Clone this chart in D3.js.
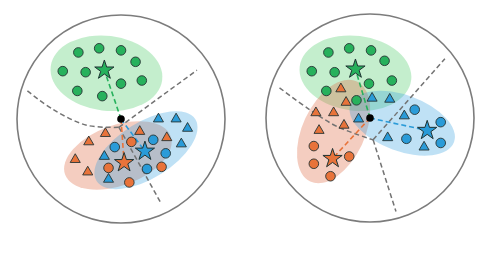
<!DOCTYPE html>
<html>
<head>
<meta charset="utf-8">
<script src="https://cdn.jsdelivr.net/npm/d3@7"></script>
<style>
  html, body { margin: 0; background: #fff; }
</style>
</head>
<body>
<svg id="chart" width="495" height="259"></svg>
<script>
// all positions are in disk units: (0,0) is the centre of the disk, 1 is the rim

// left disk
const leftGreenCircles = [[-0.41,0.64],[-0.21,0.68],[0.00,0.66],[0.14,0.55],[-0.56,0.46],
  [-0.34,0.45],[0.00,0.34],[0.20,0.37],[-0.42,0.27],[-0.18,0.22]];
const leftOrangeTriangles = [[-0.15,-0.14],[-0.31,-0.22],[-0.44,-0.39],[-0.32,-0.51],[0.18,-0.12],[0.44,-0.18]];
const leftOrangeCircles = [[0.10,-0.22],[-0.12,-0.47],[0.39,-0.46],[0.08,-0.61]];
const leftBlueTriangles = [[0.36,0.00],[0.53,0.00],[0.64,-0.09],[0.58,-0.24],[-0.16,-0.36],[-0.12,-0.58]];
const leftBlueCircles = [[-0.06,-0.27],[0.31,-0.20],[0.43,-0.33],[0.25,-0.48]];
const leftStars = [["green",-0.16,0.47],["orange",0.03,-0.42],["blue",0.23,-0.31]];
// cluster ellipses: colour, centre x, centre y, semi-axes, angle (degrees)
const leftEllipses = [["green",-0.14,0.44,0.54,0.36,-7],["orange",-0.03,-0.35,0.54,0.29,20],
  ["blue",0.24,-0.30,0.56,0.27,32]];
const leftBoundaryCurve = [[-0.90,0.27],[-0.65,0.09],[-0.33,-0.06],[-0.02,-0.08]];
const leftBoundaryRays = [[0.73,0.47],[0.39,-0.82]];

// right disk
const rightGreenCircles = [[-0.40,0.63],[-0.20,0.67],[0.01,0.65],[0.14,0.55],[-0.56,0.45],
  [-0.34,0.44],[-0.01,0.33],[0.21,0.36],[-0.42,0.26],[-0.13,0.17]];
const rightOrangeTriangles = [[-0.28,0.28],[-0.23,0.15],[-0.52,0.05],[-0.35,0.05],[-0.25,-0.07],[-0.49,-0.12]];
const rightOrangeCircles = [[-0.54,-0.27],[-0.54,-0.44],[-0.20,-0.37],[-0.38,-0.56]];
const rightBlueTriangles = [[0.02,0.19],[0.19,0.18],[-0.11,-0.01],[0.33,0.02],[0.17,-0.19],[0.52,-0.28]];
const rightBlueCircles = [[0.43,0.08],[0.68,-0.04],[0.35,-0.20],[0.68,-0.24]];
const rightStars = [["green",-0.14,0.47],["orange",-0.36,-0.39],["blue",0.55,-0.12]];
const rightEllipses = [["green",-0.14,0.43,0.54,0.36,-7],["orange",-0.35,-0.13,0.53,0.30,65],
  ["blue",0.31,-0.05,0.53,0.27,-20]];
const rightBoundaryCurve = [[-0.87,0.29],[-0.58,0.08],[-0.32,-0.08],[0.03,-0.21]];
const rightBoundaryRays = [[0.72,0.57],[0.25,-0.90]];

const colors = { green: "#27b15c", orange: "#e8733a", blue: "#2a9bd8" };
const ellipseFill = { green: "#3cc85a", orange: "#e0704a", blue: "#2a9bde" };
const ellipseOpacity = { green: 0.3, orange: 0.35, blue: 0.3 };

const panels = [
  {
    cx: 121, cy: 119,
    circles: [["green", leftGreenCircles], ["orange", leftOrangeCircles], ["blue", leftBlueCircles]],
    triangles: [["orange", leftOrangeTriangles], ["blue", leftBlueTriangles]],
    stars: leftStars, ellipses: leftEllipses,
    curve: leftBoundaryCurve, rays: leftBoundaryRays,
  },
  {
    cx: 370, cy: 118,
    circles: [["green", rightGreenCircles], ["orange", rightOrangeCircles], ["blue", rightBlueCircles]],
    triangles: [["orange", rightOrangeTriangles], ["blue", rightBlueTriangles]],
    stars: rightStars, ellipses: rightEllipses,
    curve: rightBoundaryCurve, rays: rightBoundaryRays,
  },
];

const R = 104;
const svg = d3.select("#chart");
const markStroke = "#263333";

panels.forEach((p) => {
  const x = d3.scaleLinear().domain([-1, 1]).range([p.cx - R, p.cx + R]);
  const y = d3.scaleLinear().domain([-1, 1]).range([p.cy + R, p.cy - R]);
  const g = svg.append("g");

  // disk
  g.append("circle")
    .attr("cx", x(0)).attr("cy", y(0)).attr("r", x(1) - x(0))
    .attr("fill", "none").attr("stroke", "#7c7c7c").attr("stroke-width", 1.6);

  // cluster ellipses
  g.selectAll("ellipse")
    .data(p.ellipses)
    .join("ellipse")
    .attr("transform", (d) => `translate(${x(d[1])},${y(d[2])}) rotate(${-d[5]})`)
    .attr("rx", (d) => x(d[3]) - x(0))
    .attr("ry", (d) => x(d[4]) - x(0))
    .attr("fill", (d) => ellipseFill[d[0]])
    .attr("fill-opacity", (d) => ellipseOpacity[d[0]]);

  // decision boundaries
  const curveLine = d3.line().x((d) => x(d[0])).y((d) => y(d[1])).curve(d3.curveCatmullRom);
  const junction = p.curve[p.curve.length - 1];
  g.append("path")
    .attr("d", curveLine(p.curve))
    .attr("fill", "none").attr("stroke", "#737373").attr("stroke-width", 1.5)
    .attr("stroke-dasharray", "5,3");
  g.selectAll("line.ray")
    .data(p.rays)
    .join("line")
    .attr("class", "ray")
    .attr("x1", x(junction[0])).attr("y1", y(junction[1]))
    .attr("x2", (d) => x(d[0])).attr("y2", (d) => y(d[1]))
    .attr("stroke", "#737373").attr("stroke-width", 1.5)
    .attr("stroke-dasharray", "5,3");

  // centre to prototype
  g.selectAll("line.proto")
    .data(p.stars)
    .join("line")
    .attr("class", "proto")
    .attr("x1", x(0)).attr("y1", y(0))
    .attr("x2", (d) => x(d[1])).attr("y2", (d) => y(d[2]))
    .attr("stroke", (d) => colors[d[0]]).attr("stroke-width", 1.6)
    .attr("stroke-dasharray", "5,3");

  // samples
  p.circles.forEach(([c, pts]) => {
    g.append("g").selectAll("circle")
      .data(pts)
      .join("circle")
      .attr("cx", (d) => x(d[0])).attr("cy", (d) => y(d[1])).attr("r", 4.8)
      .attr("fill", colors[c]).attr("stroke", markStroke).attr("stroke-width", 0.9);
  });
  const tri = d3.symbol().type(d3.symbolTriangle).size(44);
  p.triangles.forEach(([c, pts]) => {
    g.append("g").selectAll("path")
      .data(pts)
      .join("path")
      .attr("d", tri)
      .attr("transform", (d) => `translate(${x(d[0])},${y(d[1])})`)
      .attr("fill", colors[c]).attr("stroke", markStroke).attr("stroke-width", 0.9);
  });

  // prototypes
  const star = d3.symbol().type(d3.symbolStar).size(115);
  g.append("g").selectAll("path")
    .data(p.stars)
    .join("path")
    .attr("d", star)
    .attr("transform", (d) => `translate(${x(d[1])},${y(d[2])})`)
    .attr("fill", (d) => colors[d[0]]).attr("stroke", "#1f3333").attr("stroke-width", 1);

  // origin
  g.append("circle")
    .attr("cx", x(0)).attr("cy", y(0)).attr("r", 3.8)
    .attr("fill", "#000");
});
</script>
</body>
</html>
